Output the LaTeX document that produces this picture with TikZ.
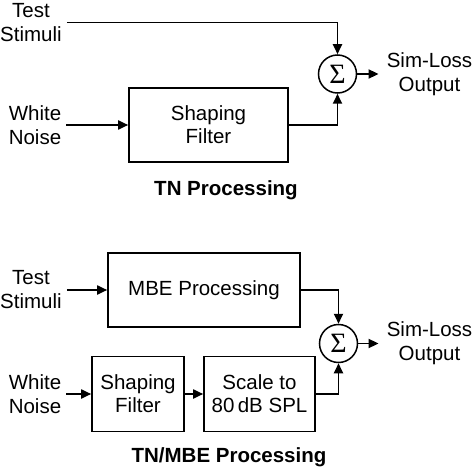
\documentclass[tikz,border=0pt]{standalone}
\usepackage{fontspec}
\setmainfont{Liberation Sans}
\newfontfamily\sigmafont{Liberation Serif}
\usetikzlibrary{arrows.meta,positioning}

\begin{document}
\begin{tikzpicture}[x=1pt,y=-1pt]
	\tikzstyle{Label}	= [align=center, font=\fontsize{20.5}{24}\selectfont, inner sep=5pt]
	\tikzstyle{OutLabel}	= [Label, inner sep=8pt]
	\tikzstyle{Block}	= [draw, line width=1.6pt, align=center, font=\fontsize{20.5}{23}\selectfont, inner sep=0pt]
	\tikzstyle{Sum}		= [circle, draw, line width=1.5pt, minimum size=38pt, inner sep=0pt, font=\sigmafont\fontsize{28}{28}\selectfont]
	\tikzstyle{Title}	= [font=\bfseries\fontsize{20.5}{24}\selectfont]
	\tikzstyle{Wire}	= [line width=1.8pt]
	\tikzstyle{Arrow}	= [Wire, -{Triangle[length=10pt,width=9pt]}]

	\useasboundingbox (0,0) rectangle (474,468);

	% TN processing
	\node (ts1) at (31,22.5) [Label] {Test\\Stimuli};
	\node (wn1) at (35,125) [Label] {White\\Noise};
	\node (sf1) at (208.5,125) [Block][minimum width=159pt, minimum height=74pt] {Shaping\\Filter};
	\node (sum1) at (337.5,74) [Sum] {Σ};
	\node (out1) at (429.5,74) [OutLabel] {Sim-Loss\\Output};
	\node (tn) at (226,190) [Title] {TN Processing};

	\draw [Arrow] (wn1) to (sf1);
	\draw [Arrow] (ts1.east) -| (sum1.north);
	\draw [Arrow] (sf1.east) -| (sum1.south);
	\draw [Arrow] (sum1) to (out1);

	% TN/MBE processing
	\node (ts2) at (31,290) [Label] {Test\\Stimuli};
	\node (wn2) at (35,394) [Label] {White\\Noise};
	\node (mbe) at (204,290) [Block][minimum width=192pt, minimum height=74pt] {MBE Processing};
	\node (sf2) at (138,394) [Block][minimum width=92pt, minimum height=75pt] {Shaping\\Filter};
	\node (scl) at (259.5,394) [Block][minimum width=111pt, minimum height=75pt] {Scale to\\80\,dB SPL};
	\node (sum2) at (338.5,343.5) [Sum] {Σ};
	\node (out2) at (429.5,343.5) [OutLabel] {Sim-Loss\\Output};
	\node (tnmbe) at (229,457) [Title] {TN/MBE Processing};

	\draw [Arrow] (ts2) to (mbe);
	\draw [Arrow] (wn2) to (sf2);
	\draw [Arrow] (sf2) to (scl);
	\draw [Arrow] (mbe.east) -| (sum2.north);
	\draw [Arrow] (scl.east) -| (sum2.south);
	\draw [Arrow] (sum2) to (out2);
\end{tikzpicture}
\end{document}
